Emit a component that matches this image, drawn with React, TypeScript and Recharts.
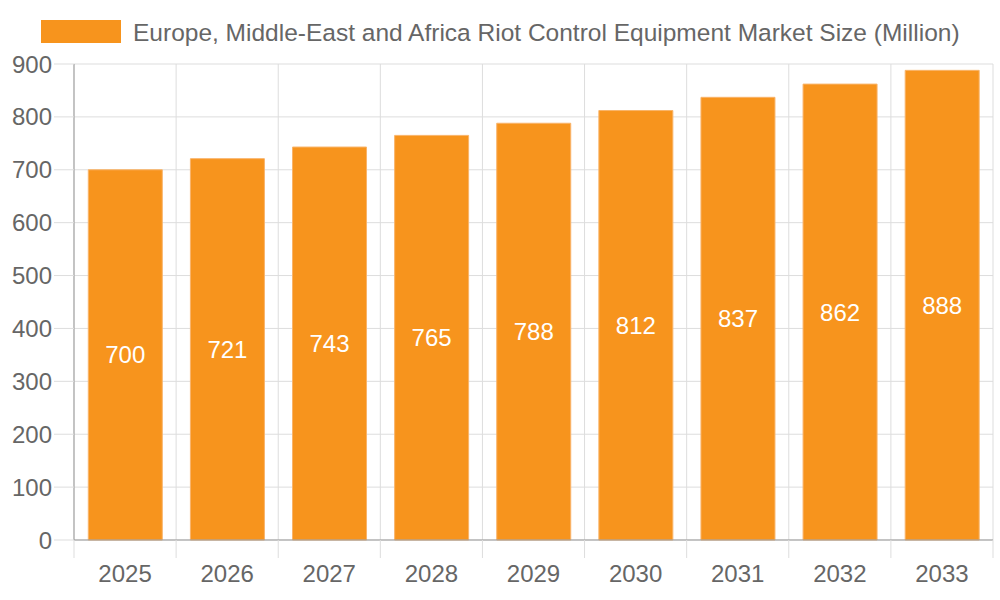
import React from "react";
import {
  BarChart,
  Bar,
  XAxis,
  YAxis,
  CartesianGrid,
  Legend,
  LabelList,
} from "recharts";

const years = ["2025", "2026", "2027", "2028", "2029", "2030", "2031", "2032", "2033"];
const marketSize = [700, 721, 743, 765, 788, 812, 837, 862, 888];
const yTicks = [0, 100, 200, 300, 400, 500, 600, 700, 800, 900];
const seriesName = "Europe, Middle-East and Africa Riot Control Equipment Market Size (Million)";

const data = years.map((y, i) => ({ year: y, value: marketSize[i] }));

const ORANGE = "#F7941D";
const GRID = "#dddddd";
const TEXT = "#666666";
const FONT = 24;

const LegendContent = () => (
  <svg width={1000} height={60}>
    <rect x={41} y={20} width={80} height={23} fill={ORANGE} />
    <text x={133} y={32} dominantBaseline="central" fontSize={24.5} fill={TEXT}>
      {seriesName}
    </text>
  </svg>
);

const categoryBoundaries = ({ offset }: any) => {
  const n = years.length;
  const out: number[] = [];
  for (let i = 0; i <= n; i++) out.push(offset.left + (i * offset.width) / n);
  return out;
};

const XTick = (props: any) => {
  const { x, y, payload, index, width, visibleTicksCount } = props;
  const half = width / (visibleTicksCount || years.length) / 2;
  const axisY = y - 25;
  return (
    <g>
      <line x1={x - half} x2={x - half} y1={axisY} y2={axisY + 18} stroke={GRID} />
      {index === years.length - 1 && (
        <line x1={x + half} x2={x + half} y1={axisY} y2={axisY + 18} stroke={GRID} />
      )}
      <text x={x} y={y} dy="0.71em" textAnchor="middle" fill={TEXT} fontSize={FONT}>
        {payload.value}
      </text>
    </g>
  );
};

export default function App() {
  return (
    <div style={{ position: "absolute", left: 0, top: 0 }}>
      <BarChart
        width={1000}
        height={600}
        data={data}
        margin={{ top: 64, right: 7, bottom: 0, left: 0 }}
        barCategoryGap="14%"
        style={{ fontFamily: "Liberation Sans, Arial, sans-serif" }}
      >
        <CartesianGrid
          stroke={GRID}
          strokeWidth={1}
          verticalCoordinatesGenerator={categoryBoundaries}
        />
        <XAxis
          dataKey="year"
          height={60}
          axisLine={{ stroke: "#999999" }}
          tickLine={false}
          tickSize={18}
          tickMargin={7}
          tick={<XTick />}
          interval={0}
        />
        <YAxis
          width={74}
          domain={[0, 900]}
          ticks={yTicks}
          axisLine={{ stroke: "#999999" }}
          tickLine={{ stroke: GRID }}
          tickSize={20}
          tickMargin={2}
          tick={{ fill: TEXT, fontSize: FONT }}
          interval={0}
        />
        <Legend
          layout="vertical"
          align="center"
          verticalAlign="middle"
          content={<LegendContent />}
          wrapperStyle={{ top: 0, left: 0, width: 1000, height: 60 }}
        />
        <Bar
          dataKey="value"
          name={seriesName}
          fill={ORANGE}
          stroke="#F9B46A"
          strokeWidth={1}
          isAnimationActive={false}
        >
          <LabelList dataKey="value" position="center" fill="#ffffff" fontSize={FONT} />
        </Bar>
      </BarChart>
    </div>
  );
}
